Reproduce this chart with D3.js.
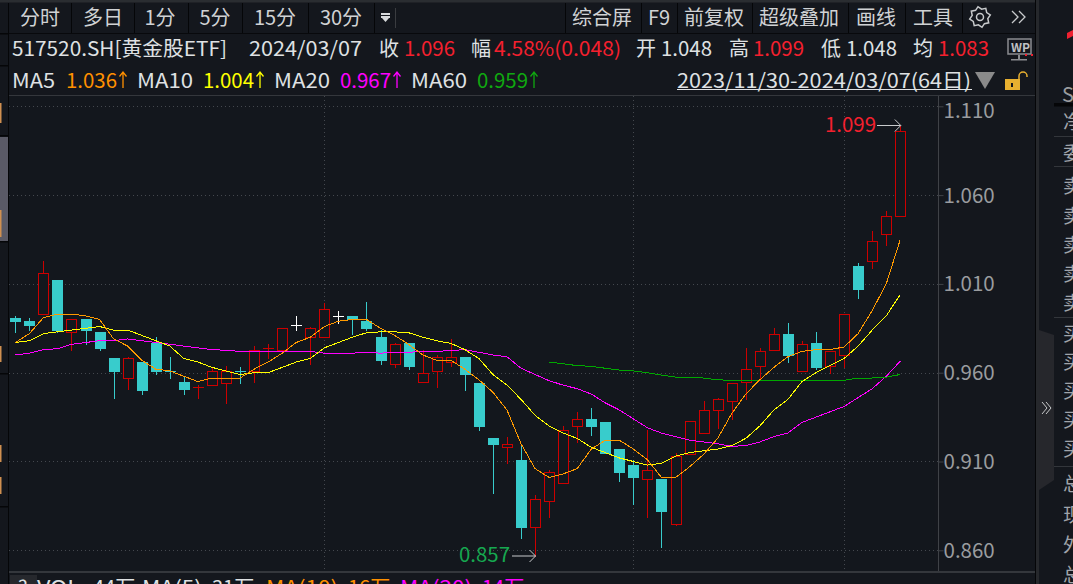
<!DOCTYPE html>
<html><head><meta charset="utf-8">
<script src="https://cdn.jsdelivr.net/npm/d3@7/dist/d3.min.js"></script>
<style>
html,body{margin:0;padding:0;background:#14171d;overflow:hidden}
svg{display:block}
text{font-family:"Noto Sans CJK SC","Noto Sans",sans-serif}
</style></head><body>
<svg id="c" width="1073" height="584"></svg>
<script>
const open=[.991,.989,.993,1.012,.983,.990,.983,.968,.957,.966,.977,.961,.955,.952,.953,.954,.961,.961,.974,.973,.987,.980,.980,.992,.992,.989,.980,.965,.977,.955,.961,.966,.969,.954,.923,.918,.911,.873,.888,.898,.930,.934,.932,.917,.908,.900,.900,.875,.914,.926,.939,.944,.955,.964,.973,.982,.961,.977,.964,.970,1.020,1.023,1.038,1.048];
const close=[.989,.987,1.016,.984,.990,.984,.974,.961,.968,.950,.961,.961,.951,.952,.961,.961,.961,.973,.974,.985,.987,.985,.996,.992,.990,.985,.967,.976,.964,.960,.969,.969,.959,.930,.920,.920,.873,.889,.904,.928,.934,.930,.915,.904,.901,.905,.882,.913,.933,.939,.945,.954,.962,.972,.982,.970,.976,.963,.972,.993,1.007,1.034,1.048,1.096];
const high=[.992,.991,1.023,1.012,.990,.990,.983,.968,.969,.966,.980,.969,.958,.953,.963,.964,.963,.975,.976,.985,.992,.986,.999,.995,.992,1.000,.984,.977,.977,.973,.970,.979,.969,.954,.923,.924,.919,.891,.905,.930,.938,.940,.932,.917,.911,.928,.900,.915,.933,.944,.946,.954,.974,.974,.985,.988,.978,.983,.972,.993,1.022,1.040,1.051,1.099];
const low=[.983,.984,.993,.983,.973,.976,.973,.946,.951,.948,.959,.957,.948,.946,.953,.943,.954,.955,.968,.973,.984,.965,.980,.988,.982,.984,.965,.963,.962,.955,.952,.964,.950,.928,.892,.909,.867,.857,.879,.898,.921,.925,.915,.899,.886,.879,.862,.874,.914,.926,.929,.934,.945,.957,.973,.966,.961,.962,.960,.963,1.002,1.019,1.032,1.048];
const whiteCross=[20,23];
const tealCross=[11,16];
const ma5=[.977,.982,.991,.993,.993,.992,.990,.979,.975,.967,.962,.961,.958,.955,.957,.957,.957,.962,.966,.971,.977,.980,.986,.989,.990,.990,.985,.981,.976,.970,.967,.967,.962,.956,.949,.939,.920,.906,.901,.903,.906,.917,.922,.922,.917,.911,.901,.901,.907,.914,.923,.937,.948,.956,.963,.969,.972,.973,.973,.9745,.982,.995,1.010,1.035];
const ma10=[.977,.978,.982,.983,.984,.985,.986,.984,.984,.981,.978,.975,.968,.966,.963,.961,.959,.960,.960,.963,.966,.968,.974,.977,.980,.9825,.983,.983,.9825,.980,.978,.9765,.973,.968,.959,.953,.945,.936,.930,.926,.923,.918,.915,.912,.910,.908,.909,.913,.915,.916,.917,.919,.923,.930,.939,.945,.955,.960,.964,.968,.975,.984,.992,1.004];
const ma20=[.970,.971,.973,.9735,.976,.977,.978,.978,.979,.978,.977,.976,.975,.974,.973,.9726,.972,.972,.972,.972,.972,.972,.971,.971,.971,.9715,.971,.9715,.9715,.972,.972,.9725,.973,.9715,.970,.969,.9625,.959,.9555,.953,.951,.948,.943,.939,.934,.929,.926,.924,.922,.921,.920,.9185,.919,.921,.924,.926,.932,.935,.938,.941,.946,.951,.958,.9665];
const ma60=[.966,.965,.964,.9636,.9625,.9615,.961,.960,.9587,.9575,.9574,.957,.956,.9557,.9557,.9557,.9557,.9557,.9557,.9557,.9557,.9557,.957,.957,.9575,.959];
const ma60Start=38;
const yTicks=[1.110,1.060,1.010,.960,.910,.860];
const monthMarks=[22,44,59];
const topTabs=["分时","多日","1分","5分","15分","30分"];
const topTools=["综合屏","F9","前复权","超级叠加","画线","工具"];

const RED="#cc0000",TEAL="#38cccc",BG="#13171d";
const svg=d3.select("#c");
const x=d3.scaleLinear().domain([0,63]).range([15.3,900.3]);
const y=d3.scaleLinear().domain([.86,1.11]).range([550.3,106.3]);
const py=v=>Math.round(y(v));
const px=i=>Math.round(x(i));

// backdrop
const rect=(a,b,w,h,f,p=svg)=>p.append("rect").attr("x",a).attr("y",b).attr("width",w).attr("height",h).attr("fill",f);
rect(0,0,1073,584,"#14171d");
rect(9,96,926,476,BG);
rect(0,0,1035,2.5,"#2a2d31");

// left strip
rect(0,137,8,104,"#5a5a66");
rect(0,103,1.5,20,"#d09050");
rect(0,210,1.5,27,"#d09050");
rect(0,346,1.5,16,"#d09050");
rect(0,445,1.5,17,"#d09050");
rect(0,477,1.5,17,"#d09050");
[33,65,135,241,373,506].forEach(v=>rect(0,v,8,1.5,"#050608"));
rect(8,3,1,581,"#050608");

// frame lines
rect(9,33,1026,1,"#08090c");
rect(9,95,1026,1,"#34373c");
rect(9,571,1026,2,"#34373c");
rect(938,96,1,475,"#3f4247");
rect(1035,0,1,584,"#050608");
rect(1036,0,3,584,"#26282c");

// grid
const grid=svg.append("g").attr("stroke","#44484e").attr("stroke-width",1).attr("stroke-dasharray","1 3").attr("shape-rendering","crispEdges");
grid.selectAll("line.h").data(yTicks).join("line").attr("x1",9).attr("x2",938).attr("y1",d=>py(d)+.5).attr("y2",d=>py(d)+.5);
grid.selectAll("line.v").data(monthMarks).join("line").attr("x1",d=>px(d)+.5).attr("x2",d=>px(d)+.5).attr("y1",96).attr("y2",571);

// axis
const ax=svg.append("g").attr("transform","translate(938.5,0)").call(d3.axisRight(y).tickValues(yTicks).tickSize(5).tickPadding(0).tickFormat(d3.format(".3f")));
ax.select(".domain").remove();
ax.selectAll("line").attr("stroke","#3f4247");
ax.selectAll("text").attr("fill","#9a9c9f").style("font-size","20.5px").attr("font-family",'"Noto Sans CJK SC"').attr("dy",(d)=>d===1.110?"11px":"7px");

// candles
const idx=d3.range(open.length);
const color=i=>close[i]>open[i]?RED:close[i]<open[i]?TEAL:whiteCross.includes(i)?"#ffffff":tealCross.includes(i)?TEAL:RED;
const cg=svg.append("g").attr("shape-rendering","crispEdges");
cg.selectAll("line.w").data(idx).join("line").attr("x1",i=>px(i)+.5).attr("x2",i=>px(i)+.5)
  .attr("y1",i=>py(high[i])).attr("y2",i=>py(low[i])+1).attr("stroke",color).attr("stroke-width",1);
cg.selectAll("rect.b").data(idx.filter(i=>close[i]!==open[i])).join("rect")
  .attr("x",i=>close[i]>open[i]?px(i)-4.5:px(i)-5)
  .attr("width",i=>close[i]>open[i]?10:11)
  .attr("y",i=>close[i]>open[i]?py(close[i])+.5:py(open[i]))
  .attr("height",i=>Math.abs(py(open[i])-py(close[i]))+(close[i]>open[i]?0:1))
  .attr("fill",i=>close[i]>open[i]?BG:TEAL)
  .attr("stroke",i=>close[i]>open[i]?RED:"none").attr("stroke-width",1);
cg.selectAll("line.d").data(idx.filter(i=>close[i]===open[i])).join("line")
  .attr("x1",i=>px(i)-5).attr("x2",i=>px(i)+6).attr("y1",i=>py(open[i])+.5).attr("y2",i=>py(open[i])+.5)
  .attr("stroke",color);

// moving averages
const line=d3.line().x(d=>x(d[0])).y(d=>y(d[1]));
const series=[[ma20,0,"#ff00ff"],[ma60,ma60Start,"#00a800"],[ma10,0,"#ffff00"],[ma5,0,"#ff9a00"]];
series.forEach(([s,st,c])=>svg.append("path").attr("d",line(s.map((v,i)=>[i+st,v]))).attr("fill","none").attr("stroke",c).attr("stroke-width",1).attr("shape-rendering","crispEdges"));

// text helper
const t=(a,b,s,f="#d8dadc",size=20,anchor="start",len)=>{const e=svg.append("text").attr("x",a).attr("y",b).attr("fill",f).style("font-size",size+"px").attr("text-anchor",anchor).text(s);if(len)e.attr("textLength",len).attr("lengthAdjust","spacingAndGlyphs");return e;};
const up=(a,b,f)=>svg.append("path").attr("d",`M${a} ${b}V${b-16}M${a-3.5} ${b-11.5}L${a} ${b-16}L${a+3.5} ${b-11.5}`).attr("fill","none").attr("stroke",f).attr("stroke-width",1.3);
const num=(a,b,s,f)=>t(a,b,s,f,20,"start",51);

// top tabs
const tabX=[40,103,160,215,275,341], tabSep=[71,134,188,242,308,374];
topTabs.forEach((s,i)=>t(tabX[i],25,s,"#d0d2d4",20,"middle"));
tabSep.forEach(v=>rect(v,3,1,30,"#050608"));
rect(381,13,9,2,"#d8dadc");rect(381,16,9,2,"#d8dadc");
svg.append("path").attr("d","M382 18h7l-3.5 4z").attr("fill","#d8dadc");
rect(395,8,1,20,"#3a3c40");
const toolX=[602,659,714,799,876,933], toolSep=[565,641,677,752,848,905,962,1035];
topTools.forEach((s,i)=>t(toolX[i],25,s,"#d0d2d4",20,"middle"));
toolSep.forEach(v=>rect(v,3,1,30,"#050608"));
// gear
const gear=svg.append("g").attr("transform","translate(980,17)").attr("fill","none").attr("stroke","#c8cacc").attr("stroke-width",1.5);
gear.append("circle").attr("r",3.5);
gear.append("path").attr("d",d3.range(16).map(k=>{const a=k*Math.PI/8+Math.PI/16,r=k%2?10.5:8;return (k?"L":"M")+(r*Math.cos(a)).toFixed(1)+" "+(r*Math.sin(a)).toFixed(1)}).join("")+"Z");
svg.append("path").attr("d","M1012 11l6 6-6 6M1019 11l6 6-6 6").attr("fill","none").attr("stroke","#c8cacc").attr("stroke-width",1.3);

// info row
const W="#dfe1e3",R="#f4202e";
t(12,56,"517520.SH[黄金股ETF]",W,20,"start",215);t(249,56,"2024/03/07",W,20,"start",113);
t(379,56,"收",W);num(404,56,"1.096",R);t(471,56,"幅",W);t(494,56,"4.58%(0.048)",R,20,"start",127);
t(636,56,"开",W);num(661,56,"1.048",W);t(729,56,"高",W);num(753,56,"1.099",R);
t(821,56,"低",W);num(846,56,"1.048",W);t(913,56,"均",W);num(938,56,"1.083",R);

// MA row
t(12,88,"MA5",W,20,"start",43);num(66,88,"1.036","#ff9000");up(123,88,"#ff9000");
t(137,88,"MA10",W,20,"start",56);num(203,88,"1.004","#ffff00");up(260,88,"#ffff00");
t(274,88,"MA20",W,20,"start",56);num(340,88,"0.967","#ff00ff");up(397,88,"#ff00ff");
t(411,88,"MA60",W,20,"start",56);num(477,88,"0.959","#10a810");up(534,88,"#10a810");
t(677,88,"2023/11/30-2024/03/07(64日)",W,20,"start",294);
rect(677,89,295,1,W);
svg.append("path").attr("d","M975 72h20l-10 17z").attr("fill","#8a8a8a");
rect(1005,79,15,11,"#e8b030");
rect(1011,83,2,4,"#14171d");
svg.append("path").attr("d","M1019 79v-3a4 4 0 0 1 8 0v1").attr("fill","none").attr("stroke","#e8b030").attr("stroke-width",1.5);

// WP icon
svg.append("rect").attr("x",1008).attr("y",39).attr("width",23).attr("height",15).attr("fill","none").attr("stroke","#8a8c90").attr("stroke-width",1.5);
t(1011,52,"WP","#bfc0c2",12).style("font-weight","700");
rect(1018,55,2,4,"#8a8c90");rect(1011,59,16,1.5,"#8a8c90");
rect(1025,54,2,2,"#f02030");rect(1031,54,2,2,"#f02030");

// extreme labels
const arrow=(a,b,yy)=>svg.append("path").attr("d",`M${a} ${yy}H${b}M${b-6} ${yy-6}L${b} ${yy}L${b-6} ${yy+6}`).attr("fill","none").attr("stroke","#c8cacc").attr("stroke-width",1);
const hi=d3.max(high), lo=d3.min(low), hiI=high.indexOf(hi), loI=low.indexOf(lo);
num(825,132,hi.toFixed(3),R);arrow(877,x(hiI)+.5,py(hi)-.5);
num(459,562,lo.toFixed(3),"#16a850");arrow(512,x(loI)+.5,py(lo));

// right panel
rect(1039,0,34,584,"#14171d");
[136,166,317].forEach(v=>rect(1054,v,19,1,"#33363b"));
rect(1054,466,19,1,"#33363b");
rect(1054,103,19,3.5,"#050608");
svg.append("path").attr("d","M1039 330l15 5v145l-15 10z").attr("fill","#26272c");
svg.append("path").attr("d","M1042 402l5 6-5 6M1046 402l5 6-5 6").attr("fill","none").attr("stroke","#c8cacc").attr("stroke-width",1);
t(1062,102,"S","#9a9c9f",20);
[["净",129],["委",160],["卖",193],["卖",223],["卖",252],["卖",281],["卖",310],["买",341],["买",369],["买",398],["买",427],["买",456],["总",491],["现",522],["外",552],["总",582]].forEach(([s,b])=>t(1063,b,s,"#a0a4aa",19));
svg.append("path").attr("d","M1067 33l6-3v6l-6 3z").attr("fill","#f02030");

// bottom row
rect(10,575,27,9,"#26282d");
t(18,595,"?",W,20);
t(37,595,"VOL",W,20,"start",43);t(93,595,"44万",W);t(142,595,"MA(5)",W,20,"start",60);t(212,595,"31万",W);
t(266,595,"MA(10)","#ff9000",20,"start",72);t(348,595,"16万","#ff9000");t(400,595,"MA(20)","#ff00ff",20,"start",72);t(482,595,"14万","#ff00ff");
</script></body></html>
